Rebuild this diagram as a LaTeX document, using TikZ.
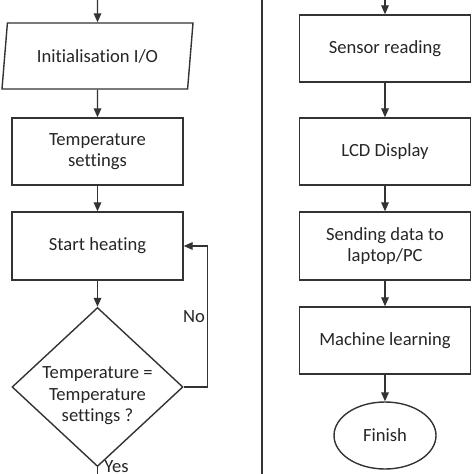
\documentclass[tikz,border=0pt]{standalone}
\usepackage{fontspec}
\setmainfont{Carlito}[Ligatures={NoCommon}]
\usetikzlibrary{arrows.meta,shapes.geometric}

\begin{document}
\begin{tikzpicture}[x=0.5pt,y=-0.5pt,
  font=\fontsize{9.3}{10.8}\selectfont,
  every node/.style={text=black!85},
  box/.style={draw=black!80,line width=0.7pt,minimum width=85.5pt,
              minimum height=33.5pt,align=center,inner sep=1pt},
  flow/.style={draw=black!80,line width=0.7pt,
               -{Triangle[length=4.5pt,width=3.8pt]}},
  plain/.style={draw=black!80,line width=0.7pt}]
  \useasboundingbox (0,0) rectangle (474,474);
  % Left column: heating loop
  \coordinate (topL) at (97.5,-4);
  \node[box,trapezium,trapezium left angle=73,trapezium right angle=107,
        trapezium stretches body,minimum width=95.5pt,minimum height=33pt]
        (init) at (97.5,56) {Initialisation I/O};
  \node[box] (temp) at (97.5,151.5) {Temperature\\settings};
  \node[box,minimum height=34pt] (heat) at (97.5,246) {Start heating};
  \node[plain,diamond,minimum width=85.5pt,minimum height=79.5pt,
        inner sep=0pt] (check) at (97.5,387) {};
  \node[align=center] (checktext) at (97.5,396) {Temperature =\\Temperature\\settings ?};
  \coordinate (botL) at (97.5,490);
  \draw[flow] (topL) -- (init.north);
  \foreach \a/\b in {init/temp,temp/heat,heat/check}
    \draw[flow] (\a) -- (\b);
  \draw[flow] (check.east) -- ++(24,0) |- (heat.east);
  \node (no) at (194,317) {No};
  \draw[plain] (check.south) -- (botL);
  \node[anchor=base west,inner sep=0pt] (yes) at (104,472) {Yes};
  % Separator
  \coordinate (sepT) at (262,-4);
  \coordinate (sepB) at (262,478);
  \draw[plain] (sepT) -- (sepB);
  % Right column: monitoring
  \coordinate (topR) at (385,-4);
  \node[box] (sensor) at (385,48.5) {Sensor reading};
  \node[box] (lcd) at (385,151.5) {LCD Display};
  \node[box,minimum height=34pt] (send) at (385,246) {Sending data to\\laptop/PC};
  \node[box] (ml) at (385,340.5) {Machine learning};
  \node[plain,ellipse,minimum width=51pt,minimum height=33.5pt,
        inner sep=0pt] (finish) at (385,435.5) {Finish};
  \draw[flow] (topR) -- (sensor);
  \foreach \a/\b in {sensor/lcd,lcd/send,send/ml,ml/finish}
    \draw[flow] (\a) -- (\b);
\end{tikzpicture}
\end{document}
